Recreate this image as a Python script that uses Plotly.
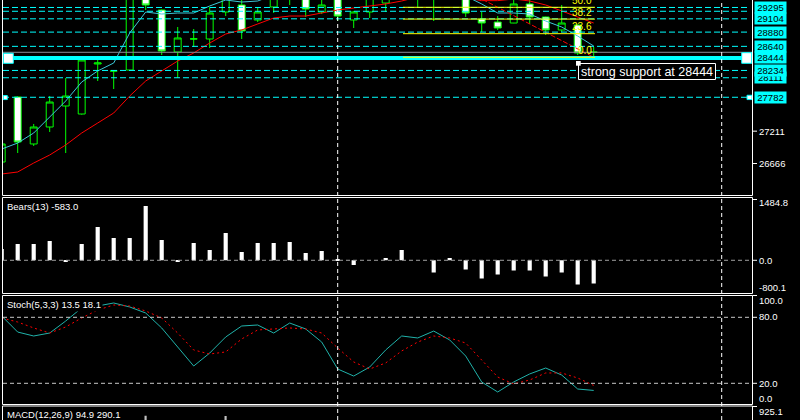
import plotly.graph_objects as go

W, H = 800, 420

# ---------------- data ----------------
opens = [26691, 27787, 26995, 27281, 27635, 27500, 28343, 28225, 28241, 29600,
         29252, 28545, 28764, 28764, 29219, 29337, 29084, 29303, 29520, 29700,
         29219, 29560, 29084, 29219, 29370, 29820, 30000, 29750, 29900, 29680,
         29101, 29050, 29033, 29354, 29135, 28916, 29000, 28545]
highs = [27012, 27795, 27332, 27803, 28107, 28420, 28427, 28228, 29560, 29640,
         29260, 28966, 28932, 29303, 29560, 29460, 29303, 29560, 29720, 29760,
         29460, 29620, 29236, 29700, 29880, 30140, 30080, 29980, 29950, 29720,
         29219, 29151, 29440, 29440, 29140, 29337, 29005, 28629]
lows = [26674, 26843, 26961, 27197, 26843, 27490, 28056, 27921, 28230, 29252,
        28494, 28107, 28629, 28612, 29151, 28764, 29050, 29202, 29337, 29135,
        29185, 29067, 28949, 29118, 29219, 29700, 29303, 29067, 29480, 29135,
        28882, 28916, 29030, 29017, 28831, 28882, 28494, 28461]
closes = [26995, 27028, 27281, 27702, 27803, 28410, 28360, 28226, 29520, 29337,
          28562, 28781, 28766, 29202, 29520, 28899, 29219, 29520, 29680, 29269,
          29337, 29151, 29219, 29650, 29820, 30050, 29800, 29900, 29700, 29202,
          29033, 28949, 29354, 29135, 28916, 29033, 28528, 28540]
ma_fast = [26910, 27011, 27180, 27450, 27719, 28039, 28225, 28359, 28865, 29219,
           29185, 29202, 29202, 29320, 29421, 29387, 29404, 29505, 29560, 29580,
           29600, 29600, 29590, 29600, 29610, 29620, 29630, 29620, 29580, 29488,
           29354, 29202, 29202, 29185, 29067, 28966, 28814, 28646]
ma_slow = [26489, 26523, 26674, 26809, 26978, 27180, 27348, 27517, 27803, 28056,
           28225, 28393, 28528, 28696, 28848, 28916, 29017, 29118, 29151, 29151,
           29202, 29252, 29286, 29320, 29354, 29404, 29472, 29505, 29472, 29455,
           29410, 29410, 29438, 29404, 29337, 29236, 29135, 29033]
bears = [283, 408, 408, 483, -33, 408, 833, 558, 558, 1358,
         508, -33, 433, 258, 683, 208, 433, 433, 458, 183,
         233, 15, -117, 0, 58, 258, 0, -308, 58, -233,
         -458, -358, -258, -258, -408, -308, -608, -583]
stoch_main = [81.2, 66.6, 63.0, 65.7, 76.6, 88.5, 90.3, 93.0, 89.4, 83.9,
              70.3, 53.0, 35.7, 47.5, 62.1, 72.1, 73.0, 65.7, 74.8, 69.4,
              57.5, 33.0, 26.6, 34.8, 50.3, 63.0, 61.2, 67.5, 59.4, 44.8,
              21.2, 12.1, 21.2, 28.5, 33.9, 27.5, 14.8, 13.5]
stoch_signal = [79.4, 75.7, 70.3, 65.7, 71.2, 79.4, 86.6, 91.2, 90.3, 85.7,
                79.4, 65.7, 50.3, 46.6, 48.5, 60.3, 68.5, 69.4, 70.3, 69.4,
                65.7, 52.1, 39.4, 33.0, 38.5, 49.4, 57.5, 63.0, 61.2, 56.6,
                41.2, 25.7, 19.4, 23.0, 29.4, 29.4, 24.8, 18.1]
macd_hist = [150, 170, 200, 260, 330, 420, 500, 570, 640, 770,
             690, 670, 660, 690, 765, 695, 680, 675, 685, 670,
             660, 650, 640, 630, 625, 620, 610, 590, 560, 520,
             470, 420, 380, 330, 280, 220, 160, 94.9]
macd_signal_last = 290.1

level_prices = [29295, 29231, 29104, 28880, 28640, 28234, 28111, 27782]
label_prices = [29295, 29104, 28880, 28640, 28444, 28111, 28234, 27782]
top_axis_price = 29421
support_price = 28444
small_marker_price = 27782
fib_low, fib_high = 28456, 30140
fib_start, fib_end = 25, 37
fib_ratios = [0.0, 23.6, 38.2, 50.0, 61.8, 100.0]
separator_bars = [21, 45]
main_ticks = [27211, 26666]
bears_ticks = ["1484.8", "0.0", "-800.1"]
stoch_ticks = [100.0, 80.0, 20.0, 0.0]
stoch_levels = [80, 20]
macd_ticks = ["925.1"]
label_text = "strong support at 28444"

n = len(opens)
xs = list(range(n))

# ---------------- geometry ----------------
FONT = "Liberation Sans, Arial"
FS = 9.5
XDOM = (2.5 / W, 752.0 / W)
XR = ((2.5 - 1.7) / 16, (752.0 - 1.7) / 16)


def py(p):
    return 1 - p / H


def px(p):
    return p / W


MAIN_DOM = (py(195), py(0))
MAIN_R = (26135.25, 29421)
BEAR_DOM = (py(292.3), py(200.9))
BEAR_R = (-800.1, 1484.8)
STO_DOM = (py(405.3), py(295.3))
STO_R = (0, 100)
MACD_DOM = (0, py(406.5))
MACD_R = (700, 925.1)


def yp(v, dom, rng):
    return dom[0] + (v - rng[0]) / (rng[1] - rng[0]) * (dom[1] - dom[0])


def xp(i):
    return XDOM[0] + (i - XR[0]) / (XR[1] - XR[0]) * (XDOM[1] - XDOM[0])


def main_y(p):
    return yp(p, MAIN_DOM, MAIN_R)


fig = go.Figure()

fig.add_trace(go.Candlestick(
    x=xs, open=opens, high=highs, low=lows, close=closes,
    increasing=dict(line=dict(color="#00FF00", width=1), fillcolor="black"),
    decreasing=dict(line=dict(color="#00FF00", width=1), fillcolor="white"),
    whiskerwidth=0, xaxis="x", yaxis="y", hoverinfo="skip"))
fig.add_trace(go.Scatter(x=xs, y=ma_slow, mode="lines",
                         line=dict(color="#FF0000", width=1), yaxis="y"))
fig.add_trace(go.Scatter(x=xs, y=ma_fast, mode="lines",
                         line=dict(color="#3CC8D8", width=1), yaxis="y"))
fig.add_trace(go.Scatter(x=[fib_start, fib_end], y=[fib_high, fib_low], mode="lines",
                         line=dict(color="#FF0000", width=1, dash="5px,2px"), yaxis="y"))

fig.add_trace(go.Bar(x=xs, y=bears, width=0.26, marker=dict(color="white", line=dict(width=0)),
                     yaxis="y2"))
fig.add_trace(go.Scatter(x=xs, y=stoch_main, mode="lines",
                         line=dict(color="#20B2AA", width=1), yaxis="y3"))
fig.add_trace(go.Scatter(x=xs, y=stoch_signal, mode="lines",
                         line=dict(color="#FF0000", width=1, dash="2px,3px"), yaxis="y3"))
fig.add_trace(go.Bar(x=xs, y=macd_hist, width=0.12, marker=dict(color="#C0C0C0", line=dict(width=0)),
                     yaxis="y4"))

shapes = []


def hline(x0, x1, y, color, width=1, dash=None):
    d = dict(type="line", xref="paper", yref="paper", x0=x0, x1=x1, y0=y, y1=y,
             line=dict(color=color, width=width))
    if dash:
        d["line"]["dash"] = dash
    shapes.append(d)


def rect(x0, y0, x1, y1, fill, line, lw=1):
    shapes.append(dict(type="rect", xref="paper", yref="paper",
                       x0=px(x0), x1=px(x1), y0=py(y0), y1=py(y1),
                       fillcolor=fill, line=dict(color=line, width=lw)))


# dashed price levels
for p in level_prices:
    hline(px(3), px(749), main_y(p), "#00FFFF", 1, "6px,3px")
# bid line
hline(px(3), px(752), main_y(closes[-1]), "#8C8C96", 1)
# support band
hline(px(13), px(742), main_y(support_price), "#00FFFF", 4)
# fib levels
for r in fib_ratios:
    lv = fib_low + r / 100 * (fib_high - fib_low)
    if lv < MAIN_R[1]:
        hline(xp(fib_start) + 1.3 / W, xp(fib_end) + 1.3 / W, main_y(lv), "#FFFF00", 1)
# squares
ys = H * (1 - main_y(support_price))
rect(3.3, ys - 4.7, 13.3, ys + 5.3, "white", "#00FFFF")
rect(741.7, ys - 5.3, 751.7, ys + 5.3, "white", "#00FFFF")
ym = H * (1 - main_y(small_marker_price))
rect(3.3, ym - 1.7, 7.3, ym + 2.3, "white", "#00FFFF")
rect(747, ym - 2, 752, ym + 2.3, "white", "#00FFFF")
# text label box
rect(578.5, 63.5, 715.5, 79.5, "black", "white")
rect(576, 61, 580.7, 65.7, "white", "white", 0)

# bears zero line, stoch levels
hline(px(3), px(752), yp(0, BEAR_DOM, BEAR_R), "#A0A0A0", 1, "4px,3px")
for lv in stoch_levels:
    hline(px(3), px(752), yp(lv, STO_DOM, STO_R), "#C8C8C8", 1, "4px,3px")

# separators
for b in separator_bars:
    shapes.append(dict(type="line", xref="paper", yref="paper", x0=xp(b), x1=xp(b),
                       y0=0, y1=1, line=dict(color="white", width=1, dash="4px,3px")))

# panel borders
for (t, b_) in [(-3, 195.5), (197.5, 293.5), (295.5, 404.5), (406.0, 430)]:
    rect(2.5, t, 752.5, b_, "rgba(0,0,0,0)", "white")


def tick(yv):
    shapes.append(dict(type="line", xref="paper", yref="paper", x0=px(752.5), x1=px(757),
                       y0=yv, y1=yv, line=dict(color="white", width=1)))


for t in main_ticks:
    tick(main_y(t))
tick(py(199.5))
tick(yp(0, BEAR_DOM, BEAR_R))
tick(py(295.5))
for lv in stoch_levels:
    tick(yp(lv, STO_DOM, STO_R))
tick(py(406.5))

annotations = []


def text(x, y, s, color="white", size=FS, xanchor="left", yanchor="middle", bg=None, **kw):
    a = dict(xref="paper", yref="paper", x=x, y=y, text=s, showarrow=False,
             font=dict(family=FONT, size=size, color=color),
             xanchor=xanchor, yanchor=yanchor, borderpad=0)
    if bg:
        a["bgcolor"] = bg
    a.update(kw)
    annotations.append(a)


# partially visible top axis label
text(px(759), py(-3.5), str(top_axis_price))

# axis label boxes
for p in label_prices:
    text(px(770.5), main_y(p), str(p), color="black", xanchor="center",
         bg="#00FFFF", width=31, height=11)
for t in main_ticks:
    text(px(757.5), main_y(t), str(t))

text(px(757.5), py(202), bears_ticks[0])
text(px(757.5), py(260.3), bears_ticks[1])
text(px(757.5), py(287.3), bears_ticks[2])
for v, yy in zip(stoch_ticks, [300, 316.7, 383.3, 398.3]):
    text(px(757.5), py(yy), f"{v:.1f}")
text(px(757.5), py(411.5), macd_ticks[0])

# fib labels
for r in fib_ratios:
    lv = fib_low + r / 100 * (fib_high - fib_low)
    if lv < MAIN_R[1]:
        text(xp(fib_end) - 0.3 / W, main_y(lv) + 0.5 / H, f"{r:.1f}", color="#FFFF00",
             size=10, xanchor="right", yanchor="bottom")

# support label text
text(px(647), py(71.5), label_text, size=12.5, xanchor="center")

# panel titles
text(px(5.5), py(206), f"Bears(13) {bears[-1]:.1f}")
text(px(5), py(304.5), f"Stoch(5,3,3) {stoch_main[-1]:.1f} {stoch_signal[-1]:.1f}", bg="black",
     borderpad=1)
text(px(5.5), py(414.5), f"MACD(12,26,9) {macd_hist[-1]:.1f} {macd_signal_last:.1f}")

ax_common = dict(visible=False, fixedrange=True)
fig.update_layout(
    width=W, height=H, margin=dict(l=0, r=0, t=0, b=0),
    paper_bgcolor="black", plot_bgcolor="black", showlegend=False,
    boxgap=0.38,
    xaxis=dict(domain=list(XDOM), range=list(XR), rangeslider=dict(visible=False), **ax_common),
    yaxis=dict(domain=list(MAIN_DOM), range=list(MAIN_R), anchor="x", **ax_common),
    yaxis2=dict(domain=list(BEAR_DOM), range=list(BEAR_R), anchor="x", **ax_common),
    yaxis3=dict(domain=list(STO_DOM), range=list(STO_R), anchor="x", **ax_common),
    yaxis4=dict(domain=list(MACD_DOM), range=list(MACD_R), anchor="x", **ax_common),
    shapes=shapes, annotations=annotations,
)

fig.write_html("out.html", config={"displayModeBar": False},
               post_script="document.body.style.margin='0';document.body.style.padding='0';"
                           "document.body.style.background='black';")
